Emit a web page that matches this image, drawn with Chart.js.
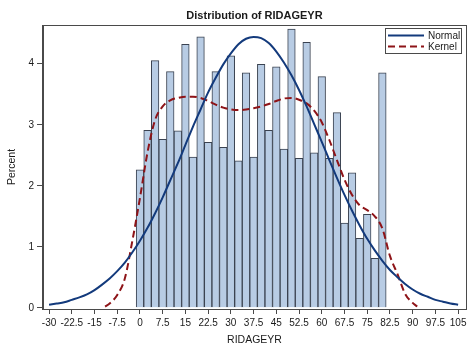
<!DOCTYPE html>
<html><head><meta charset="utf-8">
<script src="https://cdn.jsdelivr.net/npm/chart.js@4"></script>
<style>html,body{margin:0;padding:0;background:#fff}#wrap{width:474px;height:355px}</style>
</head><body><div id="wrap"><canvas id="c" width="474" height="355"></canvas></div>
<script>
const chartTitle = 'Distribution of RIDAGEYR';
const xAxisTitle = 'RIDAGEYR';
const yAxisTitle = 'Percent';
const legendLabels = ['Normal', 'Kernel'];
const xTickValues = [-30,-22.5,-15,-7.5,0,7.5,15,22.5,30,37.5,45,52.5,60,67.5,75,82.5,90,97.5,105];
const yTickValues = [0,1,2,3,4];
const binMidpoints = [0,2.5,5,7.5,10,12.5,15,17.5,20,22.5,25,27.5,30,32.5,35,37.5,40,42.5,45,47.5,50,52.5,55,57.5,60,62.5,65,67.5,70,72.5,75,77.5,80];
const binPercents = [2.26,2.91,4.05,2.76,3.87,2.90,4.32,2.47,4.44,2.71,3.87,2.63,4.13,2.41,3.85,2.47,3.99,2.91,3.95,2.60,4.57,2.45,4.35,2.54,3.79,2.45,3.20,1.39,2.21,1.14,1.53,0.81,3.85];
const normalX = [-30,-27.5,-25,-22.5,-20,-17.5,-15,-12.5,-10,-7.5,-5,-2.5,0,2.5,5,7.5,10,12.5,15,17.5,20,22.5,25,27.5,30,32.5,35,37.5,40,42.5,45,47.5,50,52.5,55,57.5,60,62.5,65,67.5,70,72.5,75,77.5,80,82.5,85,87.5,90,92.5,95,97.5,100,102.5,105];
const normalY = [0.05,0.07,0.09,0.13,0.17,0.22,0.29,0.38,0.48,0.60,0.74,0.91,1.10,1.31,1.55,1.81,2.09,2.37,2.67,2.97,3.25,3.53,3.77,3.99,4.17,4.32,4.41,4.44,4.42,4.34,4.20,4.02,3.81,3.57,3.30,3.01,2.72,2.42,2.13,1.85,1.59,1.35,1.13,0.94,0.77,0.62,0.50,0.39,0.30,0.23,0.18,0.13,0.10,0.07,0.05];
const kernelX = [-11.5,-10,-7.5,-5,-2.5,0,2.5,5,7.5,10,12.5,15,17.5,20,22.5,25,27.5,30,32.5,35,37.5,40,42.5,45,47.5,50,52.5,55,57.5,60,62.5,65,67.5,70,72.5,75,77.5,80,82.5,85,87.5,90,91.5];
const kernelY = [0.02,0.07,0.21,0.48,1.10,1.80,2.55,3.08,3.30,3.40,3.44,3.46,3.46,3.44,3.39,3.33,3.28,3.25,3.24,3.25,3.27,3.30,3.34,3.39,3.43,3.44,3.41,3.35,3.23,3.04,2.75,2.42,2.10,1.85,1.68,1.60,1.50,1.30,0.85,0.55,0.23,0.08,0.02];

const FONT = "'Liberation Sans', Arial, sans-serif";
const TEXT = '#1a1a1a';
const AXIS = '#4a4a4a';
const BAR_FILL = '#b8cce4';
const BAR_EDGE = '#3a4250';
const NORMAL_COLOR = '#133a7c';
const KERNEL_COLOR = '#8e1418';

const framePlugin = {
  id: 'frameTitleLegend',
  afterDraw(chart) {
    const {ctx, chartArea: a} = chart;
    ctx.save();
    ctx.strokeStyle = AXIS;
    ctx.lineWidth = 1;
    ctx.strokeRect(Math.round(a.left) - 0.5, Math.round(a.top) + 0.5, Math.round(a.right - a.left) + 1, Math.round(a.bottom - a.top));
    ctx.fillStyle = TEXT;
    ctx.font = 'bold 11px ' + FONT;
    ctx.textAlign = 'center';
    ctx.textBaseline = 'alphabetic';
    ctx.fillText(chartTitle, (a.left + a.right) / 2, 18.7);
    const bx = 385.5, by = 28.5, bw = 76, bh = 25;
    ctx.fillStyle = '#fff';
    ctx.fillRect(bx, by, bw, bh);
    ctx.strokeStyle = AXIS;
    ctx.strokeRect(bx, by, bw, bh);
    const styles = [
      {color: NORMAL_COLOR, dash: []},
      {color: KERNEL_COLOR, dash: [7, 4]}
    ];
    legendLabels.forEach((lab, i) => {
      const y = 35.5 + i * 11;
      ctx.strokeStyle = styles[i].color;
      ctx.lineWidth = 2;
      ctx.setLineDash(styles[i].dash);
      ctx.beginPath();
      ctx.moveTo(388, y);
      ctx.lineTo(424, y);
      ctx.stroke();
      ctx.setLineDash([]);
      ctx.fillStyle = TEXT;
      ctx.font = '10px ' + FONT;
      ctx.textAlign = 'left';
      ctx.textBaseline = 'middle';
      ctx.fillText(lab, 428, y + 0.5);
    });
    ctx.restore();
  }
};

new Chart(document.getElementById('c'), {
  type: 'bar',
  data: {
    datasets: [
      {
        type: 'bar',
        label: 'Percent',
        data: binMidpoints.map((x, i) => ({x: x, y: binPercents[i]})),
        backgroundColor: BAR_FILL,
        borderColor: BAR_EDGE,
        borderWidth: 1,
        barPercentage: 1,
        categoryPercentage: 1,
        grouped: false,
        order: 3
      },
      {
        type: 'line',
        label: legendLabels[0],
        data: normalX.map((x, i) => ({x: x, y: normalY[i]})),
        borderColor: NORMAL_COLOR,
        borderWidth: 2,
        pointRadius: 0,
        fill: false,
        cubicInterpolationMode: 'monotone',
        order: 1
      },
      {
        type: 'line',
        label: legendLabels[1],
        data: kernelX.map((x, i) => ({x: x, y: kernelY[i]})),
        borderColor: KERNEL_COLOR,
        borderWidth: 2,
        borderDash: [7, 4],
        pointRadius: 0,
        fill: false,
        cubicInterpolationMode: 'monotone',
        order: 2
      }
    ]
  },
  options: {
    responsive: false,
    devicePixelRatio: 1,
    animation: false,
    layout: {padding: {top: 25, right: 8, left: 0, bottom: 0}},
    plugins: {legend: {display: false}, title: {display: false}, tooltip: {enabled: false}},
    scales: {
      x: {
        type: 'linear',
        offset: false,
        min: -32,
        max: 107.6,
        afterBuildTicks: s => { s.ticks = xTickValues.map(v => ({value: v})); },
        afterFit: s => { s.height = 46; },
        ticks: {callback: v => String(v), font: {family: FONT, size: 10}, color: TEXT, padding: 3, maxRotation: 0, autoSkip: false},
        grid: {drawOnChartArea: false, drawTicks: true, tickLength: 5, color: AXIS, offset: false},
        border: {display: true, color: AXIS},
        title: {display: true, text: xAxisTitle, font: {family: FONT, size: 10.5}, color: TEXT, padding: {top: 4, bottom: 9}}
      },
      y: {
        type: 'linear',
        min: -0.02,
        max: 4.635,
        afterBuildTicks: s => { s.ticks = yTickValues.map(v => ({value: v})); },
        afterFit: s => { s.width = 43; },
        ticks: {callback: v => String(v), font: {family: FONT, size: 10}, color: TEXT, padding: 3},
        grid: {drawOnChartArea: false, drawTicks: true, tickLength: 6, color: AXIS},
        border: {display: true, color: AXIS},
        title: {display: true, text: yAxisTitle, font: {family: FONT, size: 10.5}, color: TEXT, padding: {top: 6, bottom: 0}}
      }
    }
  },
  plugins: [framePlugin]
});
</script></body></html>
